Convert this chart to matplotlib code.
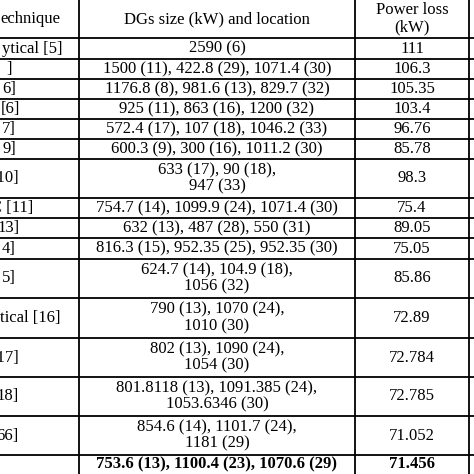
import matplotlib
matplotlib.use("Agg")
import matplotlib.pyplot as plt

techniques = ["ytical [5]", "]", "6]", "[6]", "7]", "9]", "[10]", "C [11]", "13]", "4]",
              "5]", "tical [16]", "[17]", "18]", "66]", ""]
dgs = ["2590 (6)",
       "1500 (11), 422.8 (29), 1071.4 (30)",
       "1176.8 (8), 981.6 (13), 829.7 (32)",
       "925 (11), 863 (16), 1200 (32)",
       "572.4 (17), 107 (18), 1046.2 (33)",
       "600.3 (9), 300 (16), 1011.2 (30)",
       "633 (17), 90 (18),\n947 (33)",
       "754.7 (14), 1099.9 (24), 1071.4 (30)",
       "632 (13), 487 (28), 550 (31)",
       "816.3 (15), 952.35 (25), 952.35 (30)",
       "624.7 (14), 104.9 (18),\n1056 (32)",
       "790 (13), 1070 (24),\n1010 (30)",
       "802 (13), 1090 (24),\n1054 (30)",
       "801.8118 (13), 1091.385 (24),\n1053.6346 (30)",
       "854.6 (14), 1101.7 (24),\n1181 (29)",
       "753.6 (13), 1100.4 (23), 1070.6 (29)"]
losses = ["111", "106.3", "105.35", "103.4", "96.76", "85.78", "98.3", "75.4", "89.05",
          "75.05", "85.86", "72.89", "72.784", "72.785", "71.052", "71.456"]

# layout (pixels)
row_edges = [0, 38, 59, 79, 99, 119, 139, 159, 198, 218, 238, 259, 298, 338, 377, 416, 455, 480]
tech_end = [63, 12, 16, 20, 16, 16, 19, 33, 20, 16, 16, 61, 20, 19, 19, 0]
x_lines = [79, 355, 469]

fig = plt.figure(figsize=(4.74, 4.74), dpi=100)
ax = fig.add_axes([0, 0, 1, 1])
ax.set_xlim(0, 474)
ax.set_ylim(474, 0)
ax.axis("off")
font = dict(family="Liberation Serif", fontsize=12, color="black")

for y in row_edges[1:-1]:
    ax.plot([0, 474], [y, y], color="black", lw=1.3)
for x in x_lines:
    ax.plot([x, x], [0, 474], color="black", lw=1.3)

ax.text(0, 19, "echnique", ha="left", va="center", **font)
ax.text(217, 19, "DGs size (kW) and location", ha="center", va="center", **font)
ax.text(412, 19, "Power loss\n(kW)", ha="center", va="center", linespacing=1.1, **font)

for i, (t, d, l) in enumerate(zip(techniques, dgs, losses)):
    yc = (row_edges[i + 1] + min(row_edges[i + 2], 474)) / 2
    bold = "bold" if i == len(dgs) - 1 else "normal"
    if t:
        ax.text(tech_end[i], yc, t, ha="right", va="center", clip_on=True, **font)
    ax.text(217, yc, d, ha="center", va="center", linespacing=1.05, fontweight=bold, **font)
    ax.text(412, yc, l, ha="center", va="center", fontweight=bold, **font)

fig.savefig("out.png", dpi=100)
